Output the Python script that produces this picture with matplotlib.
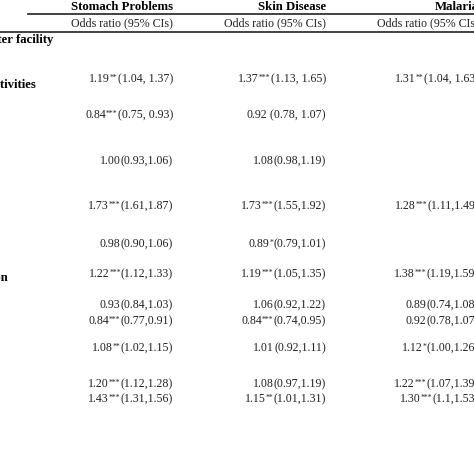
import matplotlib
matplotlib.use("Agg")
import matplotlib.pyplot as plt

col_titles = ["Stomach Problems", "Skin Disease", "Malaria"]
sub_title = "Odds ratio (95% CIs)"
sections = [("Water facility", 40), ("Activities", 85), ("Education", 278)]
row_y = [79, 115, 161, 206, 244, 274, 305, 321, 348, 384, 399]
stomach = [("1.19", "**", "(1.04, 1.37)"), ("0.84", "***", "(0.75, 0.93)"), ("1.00", "", "(0.93,1.06)"),
           ("1.73", "***", "(1.61,1.87)"), ("0.98", "", "(0.90,1.06)"), ("1.22", "***", "(1.12,1.33)"),
           ("0.93", "", "(0.84,1.03)"), ("0.84", "***", "(0.77,0.91)"), ("1.08", "**", "(1.02,1.15)"),
           ("1.20", "***", "(1.12,1.28)"), ("1.43", "***", "(1.31,1.56)")]
skin = [("1.37", "***", "(1.13, 1.65)"), ("0.92", "", " (0.78, 1.07)"), ("1.08", "", "(0.98,1.19)"),
        ("1.73", "***", "(1.55,1.92)"), ("0.89", "*", "(0.79,1.01)"), ("1.19", "***", "(1.05,1.35)"),
        ("1.06", "", "(0.92,1.22)"), ("0.84", "***", "(0.74,0.95)"), ("1.01", "", "(0.92,1.11)"),
        ("1.08", "", "(0.97,1.19)"), ("1.15", "**", "(1.01,1.31)")]
malaria = [("1.31", "**", "(1.04, 1.63)"), None, None,
           ("1.28", "***", "(1.11,1.49)"), None, ("1.38", "***", "(1.19,1.59)"),
           ("0.89", "", "(0.74,1.08)"), ("0.92", "", "(0.78,1.07)"), ("1.12", "*", "(1.00,1.26)"),
           ("1.22", "***", "(1.07,1.39)"), ("1.30", "***", "(1.1,1.53)")]

W = H = 474
fig = plt.figure(figsize=(4.74, 4.74), dpi=100)
fig.patch.set_facecolor("white")
FONT = "Liberation Serif"
FS = 8.6
col_right = [173, 326, 479]
r = fig.canvas.get_renderer()

def T(x, y, s, **kw):
    return fig.text(x / W, 1 - y / H, s, family=FONT, va="center", **kw)

def cell(xr, y, v):
    val, st, ci = v
    t = T(xr, y, ci, ha="right", fontsize=FS, color="#222")
    x0 = t.get_window_extent(r).x0
    if st:
        t2 = fig.text(x0 / W, 1 - (y - 1) / H, st, family=FONT, va="center", ha="right",
                      fontsize=5.5, color="#222")
        x0 = t2.get_window_extent(r).x0
    fig.text(x0 / W, 1 - y / H, val, family=FONT, va="center", ha="right", fontsize=FS, color="#222")

for i, t in enumerate(col_titles):
    T(col_right[i], 7, t, ha="right", fontsize=FS + 0.6, fontweight="bold")
    T(col_right[i], 23, sub_title, ha="right", fontsize=FS, color="#222")
fig.add_artist(plt.Line2D([28 / W, 1], [1 - 14 / H] * 2, color="#333", lw=1.3))
fig.add_artist(plt.Line2D([0, 1], [1 - 32 / H] * 2, color="#333", lw=1.3))

sec_right = [53, 37, 9]
for (name, y), xr in zip(sections, sec_right):
    T(xr, y, name, ha="right", fontsize=FS + 0.6, fontweight="bold")

for col, xr in zip([stomach, skin, malaria], col_right):
    for v, y in zip(col, row_y):
        if v:
            cell(xr, y, v)

fig.savefig("out.png", dpi=100)
